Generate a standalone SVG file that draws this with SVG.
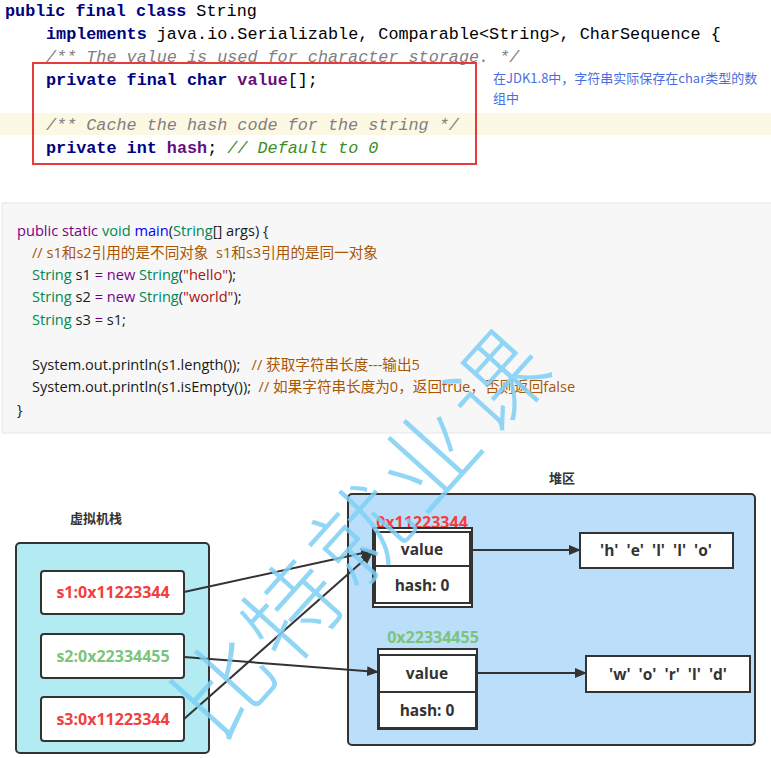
<svg xmlns="http://www.w3.org/2000/svg" width="771" height="758" viewBox="0 0 771 758">
<defs>
<style>
.mono{font-family:"Liberation Mono","DejaVu Sans Mono",monospace;font-size:16.8px;fill:#000}
.kw{font-weight:bold;fill:#000080}
.fld{font-weight:bold;fill:#660e7a}
.cmt{font-style:italic;fill:#808080}
.gcm{font-style:italic;fill:#3c8d23}
.note{font-family:"Noto Sans CJK SC","Noto Sans",sans-serif;font-size:13px;fill:#4a6ee0}
.code{font-family:"Open Sans","Noto Sans CJK SC",sans-serif;font-size:14.6px;fill:#1a1a1a}
.k{fill:#770088}
.t{fill:#008855}
.d{fill:#0000ff}
.s{fill:#aa1111}
.c{fill:#aa5500}
.lbl{font-family:"Noto Sans CJK SC","Noto Sans",sans-serif;font-size:13px;font-weight:bold;fill:#333;text-anchor:middle}
.cell{fill:#fff;stroke:#333;stroke-width:2}
.ref{font-family:"Open Sans","Noto Sans",sans-serif;font-size:16px;font-weight:bold;text-anchor:middle}
.red{fill:#f04040}
.grn{fill:#7cc47c}
.in{font-family:"Open Sans","Noto Sans",sans-serif;font-size:15.5px;font-weight:bold;fill:#333;text-anchor:middle}
.arr{fill:none;stroke:#333;stroke-width:2;marker-end:url(#ah)}
</style>
<marker id="ah" viewBox="0 0 12 10" refX="11" refY="5" markerWidth="12" markerHeight="10" markerUnits="userSpaceOnUse" orient="auto">
<path d="M0,0 L12,5 L0,10 Z" fill="#333"/>
</marker>
</defs>
<rect width="771" height="758" fill="#fff"/>

<g id="source-code">
<rect x="0" y="113" width="771" height="22" fill="#fdf8e4"/>
<text class="mono" x="5" y="16"><tspan class="kw">public final class</tspan> String</text>
<text class="mono" x="46" y="39"><tspan class="kw">implements</tspan> java.io.Serializable, Comparable&lt;String&gt;, CharSequence {</text>
<text class="mono cmt" x="46" y="62">/** The value is used for character storage. */</text>
<text class="mono" x="46" y="85"><tspan class="kw">private final char</tspan> <tspan class="fld">value</tspan>[];</text>
<text class="mono cmt" x="46" y="130">/** Cache the hash code for the string */</text>
<text class="mono" x="46" y="153"><tspan class="kw">private int</tspan> <tspan class="fld">hash</tspan>; <tspan class="gcm">// Default to 0</tspan></text>
<rect x="33" y="63" width="443" height="101" fill="none" stroke="#e83a3a" stroke-width="2"/>
<text class="note" x="493" y="83">在JDK1.8中，字符串实际保存在char类型的数</text>
<text class="note" x="493" y="103">组中</text>
</g>

<g id="main-code">
<rect x="2" y="203" width="780" height="230" fill="#f7f7f7" stroke="#e6e6e6" stroke-width="1"/>
<text class="code" x="17" y="236"><tspan class="k">public static</tspan> <tspan class="t">void</tspan> <tspan class="d">main</tspan>(<tspan class="t">String</tspan>[] args) {</text>
<text class="code c" x="32" y="258" xml:space="preserve">// s1和s2引用的是不同对象  s1和s3引用的是同一对象</text>
<text class="code" x="32" y="280"><tspan class="t">String</tspan> s1 <tspan class="k">=</tspan> <tspan class="k">new</tspan> <tspan class="t">String</tspan>(<tspan class="s">"hello"</tspan>);</text>
<text class="code" x="32" y="302"><tspan class="t">String</tspan> s2 <tspan class="k">=</tspan> <tspan class="k">new</tspan> <tspan class="t">String</tspan>(<tspan class="s">"world"</tspan>);</text>
<text class="code" x="32" y="325"><tspan class="t">String</tspan> s3 <tspan class="k">=</tspan> s1;</text>
<text class="code" x="32" y="370" xml:space="preserve">System.out.println(s1.length());   <tspan class="c">// 获取字符串长度---输出5</tspan></text>
<text class="code" x="32" y="392" xml:space="preserve">System.out.println(s1.isEmpty());  <tspan class="c">// 如果字符串长度为0，返回true，否则返回false</tspan></text>
<text class="code" x="17" y="415">}</text>
</g>

<g id="stack">
<text class="lbl" x="96" y="523">虚拟机栈</text>
<rect x="16" y="543" width="193" height="210" rx="4" fill="#b2ebf2" stroke="#333" stroke-width="2"/>
</g>
<g id="s1">
<rect class="cell" x="41" y="571" width="143" height="43" rx="3"/>
<text class="ref red" x="113" y="598">s1:0x11223344</text>
</g>
<g id="s2">
<rect class="cell" x="41" y="634" width="143" height="44" rx="3"/>
<text class="ref grn" x="113" y="662">s2:0x22334455</text>
</g>
<g id="s3">
<rect class="cell" x="41" y="697" width="143" height="44" rx="3"/>
<text class="ref red" x="113" y="725">s3:0x11223344</text>
</g>

<g id="heap">
<text class="lbl" x="562" y="483">堆区</text>
<rect x="348" y="494" width="407" height="251" rx="4" fill="#bbdefb" stroke="#333" stroke-width="2"/>
</g>
<g id="obj1">
<text class="ref red" x="422" y="528">0x11223344</text>
<rect class="cell" x="373" y="528" width="99" height="79"/>
<rect class="cell" x="375" y="532" width="95" height="34"/>
<rect class="cell" x="375" y="566" width="95" height="37"/>
<text class="in" x="422" y="555">value</text>
<text class="in" x="422" y="591">hash: 0</text>
</g>
<g id="obj2">
<text class="ref grn" x="433" y="643">0x22334455</text>
<rect class="cell" x="378" y="649" width="99" height="80"/>
<rect class="cell" x="379" y="655" width="97" height="37"/>
<rect class="cell" x="379" y="692" width="97" height="36"/>
<text class="in" x="427" y="679">value</text>
<text class="in" x="427" y="716">hash: 0</text>
</g>
<g id="hello">
<rect class="cell" x="580" y="533" width="153" height="35"/>
<text class="in" x="656" y="556" xml:space="preserve">'h'  'e'  'l'  'l'  'o'</text>
</g>
<g id="world">
<rect class="cell" x="586" y="656" width="164" height="36"/>
<text class="in" x="668" y="680" xml:space="preserve">'w'  'o'  'r'  'l'  'd'</text>
</g>

<g id="connectors">
<line class="arr" x1="184" y1="592" x2="372" y2="551"/>
<line class="arr" x1="184" y1="719" x2="372" y2="553"/>
<line class="arr" x1="184" y1="657" x2="378" y2="672"/>
<line class="arr" x1="472" y1="550" x2="580" y2="550"/>
<line class="arr" x1="477" y1="673" x2="586" y2="673"/>
</g>

<g id="watermark" opacity="0.85">
<text x="358" y="528" transform="rotate(-48 358 528)" text-anchor="middle" dominant-baseline="central" font-family="Noto Sans CJK SC,sans-serif" font-weight="300" font-size="96" fill="#7fd0f5" letter-spacing="6">比特就业课</text>
</g>
</svg>
